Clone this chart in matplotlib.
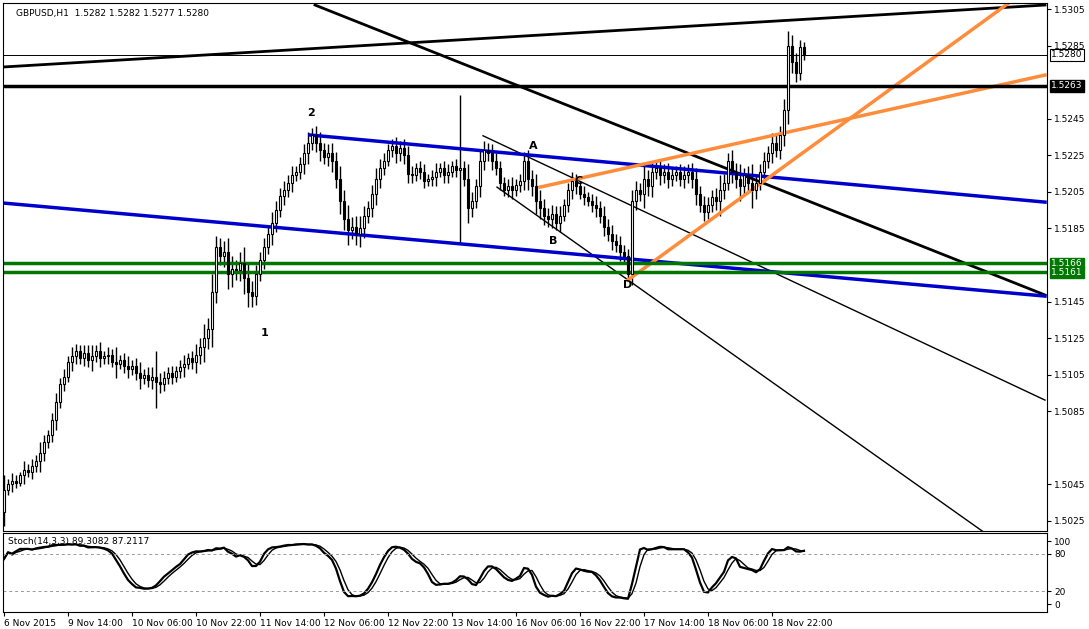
import matplotlib.pyplot as plt
import matplotlib.transforms as mtransforms
import numpy as np

# close prices in pips above 1.5000, one per H1 bar
closes = [42, 45, 47, 46, 50, 53, 52, 55, 58, 62, 68,
          72, 80, 90, 100, 104, 112, 115, 118, 114, 117,
          113, 115, 118, 114, 115, 116, 112, 111, 113, 110,
          108, 110, 106, 103, 105, 102, 104, 101, 100, 103,
          106, 104, 107, 109, 111, 114, 112, 116, 120, 125,
          130, 150, 175, 170, 172, 160, 163, 162, 166, 158,
          150, 148, 160, 168, 175, 182, 188, 195, 203, 206,
          210, 214, 216, 220, 226, 232, 236, 232, 228, 224,
          226, 222, 212, 200, 190, 184, 186, 182, 185, 192,
          196, 204, 212, 218, 222, 228, 230, 226, 229, 225,
          215, 214, 218, 216, 211, 212, 213, 216, 218, 214,
          216, 219, 217, 218, 212, 196, 200, 208, 222, 228,
          226, 222, 218, 210, 206, 208, 206, 209, 211, 222,
          212, 208, 200, 196, 192, 190, 193, 188, 192, 198,
          206, 211, 208, 204, 202, 200, 198, 196, 192, 186,
          182, 178, 176, 172, 170, 160, 200, 206, 204, 212,
          208, 216, 218, 214, 216, 212, 214, 216, 212, 214,
          216, 212, 204, 198, 194, 198, 202, 200, 206, 210,
          222, 216, 212, 208, 214, 210, 206, 210, 216, 222,
          226, 232, 228, 236, 250, 285, 276, 270, 284, 280]
first_open = 30

# wick length in pips beyond the body (used above and below)
wicks = [8, 3, 4, 3, 2, 5, 3, 4, 3, 6, 4,
         3, 4, 5, 3, 4, 3, 5, 4, 3, 4,
         4, 6, 3, 5, 3, 4, 3, 8, 3, 4,
         5, 3, 4, 6, 3, 4, 5, 14, 5, 4,
         3, 4, 3, 4, 5, 3, 4, 6, 5, 8,
         6, 10, 6, 5, 6, 8, 7, 5, 6, 9,
         8, 6, 5, 4, 5, 4, 6, 5, 4, 5,
         4, 5, 3, 4, 5, 6, 4, 5, 6, 4,
         5, 6, 5, 7, 6, 8, 5, 6, 7, 5,
         4, 5, 6, 5, 4, 3, 4, 5, 4, 5,
         5, 4, 3, 4, 4, 3, 4, 5, 3, 4,
         4, 3, 4, 40, 4, 8, 5, 4, 6, 5,
         4, 5, 4, 4, 3, 4, 5, 3, 4, 5,
         6, 5, 7, 6, 5, 4, 5, 4, 5, 3,
         4, 5, 4, 3, 4, 3, 4, 5, 4, 5,
         4, 5, 4, 5, 4, 4, 6, 5, 4, 8,
         5, 6, 4, 5, 4, 5, 4, 3, 4, 5,
         4, 5, 6, 4, 5, 4, 4, 5, 8, 5,
         4, 6, 5, 8, 4, 5, 10, 5, 4, 5,
         4, 5, 4, 5, 6, 8, 6, 5, 4, 3]

x_labels = ["6 Nov 2015", "9 Nov 14:00", "10 Nov 06:00", "10 Nov 22:00",
            "11 Nov 14:00", "12 Nov 06:00", "12 Nov 22:00", "13 Nov 14:00",
            "16 Nov 06:00", "16 Nov 22:00", "17 Nov 14:00", "18 Nov 06:00",
            "18 Nov 22:00"]
price_ticks = [1.5025, 1.5045, 1.5085, 1.5105, 1.5125, 1.5145, 1.5185,
               1.5205, 1.5225, 1.5245, 1.5285, 1.5305]

# drawn trend lines: (bar, price) -> (bar, price)
black_lines = [((-0.25, 1.52733), (260.25, 1.53072)),
               ((77.75, 1.53072), (260.25, 1.51486))]
thin_lines = [((119.75, 1.52357), (260.25, 1.50911)),
              ((123.25, 1.52076), (245.25, 1.50184))]
blue_lines = [((76.5, 1.52361), (260.25, 1.51994)),
              ((-0.25, 1.51989), (260.25, 1.51480))]
orange_lines = [((134, 1.52076), (260.25, 1.52689)),
                ((156, 1.51568), (251.5, 1.53088))]
green_levels = [1.5166, 1.5161]
level_1263 = 1.5263
last_price = 1.5280
wave_labels = [("2", 76.75, 1.5248), ("1", 65.25, 1.5128), ("A", 132.25, 1.5230),
               ("B", 137.25, 1.5178), ("C", 143.75, 1.5211), ("D", 156, 1.5154)]

c = 1.5 + np.array(closes) / 10000
o = np.concatenate([[1.5 + first_open / 10000], c[:-1]])
w = np.array(wicks) / 10000
h = np.maximum(o, c) + w
l = np.minimum(o, c) - w
idx = np.arange(len(c))

# stochastic 14,3,3
hh = np.array([h[max(0, i - 13):i + 1].max() for i in idx])
ll = np.array([l[max(0, i - 13):i + 1].min() for i in idx])
raw = 100 * (c - ll) / (hh - ll)
k = np.convolve(raw, np.ones(3) / 3, mode="full")[:len(raw)]
k[:2] = raw[:2]
d = np.convolve(k, np.ones(3) / 3, mode="full")[:len(k)]
d[:2] = k[:2]

fig = plt.figure(figsize=(10.89, 6.29), dpi=100)
ax = fig.add_axes([3 / 1089, 0.1558, 1044 / 1089, 0.8394])
ax2 = fig.add_axes([3 / 1089, 0.027, 1044 / 1089, 0.1256])

for i in idx:
    ax.vlines(i, l[i], h[i], color="black", lw=1)
    bull = c[i] >= o[i]
    body = max(abs(c[i] - o[i]), 0.00003)
    ax.add_patch(plt.Rectangle((i - 0.32, min(o[i], c[i])), 0.64, body,
                               facecolor="white" if bull else "black",
                               edgecolor="black", lw=0.8, zorder=3))

for (a, b) in black_lines:
    ax.plot([a[0], b[0]], [a[1], b[1]], color="black", lw=2)
for (a, b) in thin_lines:
    ax.plot([a[0], b[0]], [a[1], b[1]], color="black", lw=1)
for (a, b) in blue_lines:
    ax.plot([a[0], b[0]], [a[1], b[1]], color="#0000cc", lw=2.5)
for (a, b) in orange_lines:
    ax.plot([a[0], b[0]], [a[1], b[1]], color="#ff8c3a", lw=2.5)
for g in green_levels:
    ax.axhline(g, color="#007700", lw=2.5)
ax.axhline(level_1263, color="black", lw=2.5)
ax.axhline(last_price, color="black", lw=0.7)

for txt, xi, yp in wave_labels:
    ax.text(xi, yp, txt, fontsize=8, fontweight="bold", ha="center", va="center")

ax.set_xlim(-0.25, 260.75)
ax.set_ylim(1.50195, 1.53083)
ax.yaxis.tick_right()
ax.set_yticks(price_ticks)
ax.set_yticklabels([f"{p:.4f}" for p in price_ticks], fontsize=6.5)
ax.tick_params(axis="y", length=3, pad=2)
ax.set_xticks([])

trans = mtransforms.blended_transform_factory(ax.transAxes, ax.transData)
ax.text(1.004, last_price, f"{last_price:.4f}", transform=trans, fontsize=6.5,
        va="center", ha="left", bbox=dict(facecolor="white", edgecolor="black", pad=1, lw=0.8))
ax.text(1.004, level_1263, f"{level_1263:.4f}", transform=trans, fontsize=6.5, color="white",
        va="center", ha="left", bbox=dict(facecolor="black", edgecolor="black", pad=1))
for g in green_levels:
    ax.text(1.004, g, f"{g:.4f}", transform=trans, fontsize=6.5, color="white",
            va="center", ha="left", bbox=dict(facecolor="#007700", edgecolor="#007700", pad=0.6))
ax.text(0.012, 0.988, "GBPUSD,H1  1.5282 1.5282 1.5277 1.5280", transform=ax.transAxes,
        fontsize=6.5, va="top", ha="left")

ax2.plot(idx, k, color="black", lw=1.6)
ax2.plot(idx, d, color="black", lw=1)
ax2.axhline(80, color="#999999", lw=0.7, ls=(0, (3, 3)))
ax2.axhline(20, color="#999999", lw=0.7, ls=(0, (3, 3)))
ax2.set_xlim(-0.25, 260.75)
ax2.set_ylim(-12.7, 112.7)
ax2.yaxis.tick_right()
ax2.set_yticks([0, 20, 80, 100])
ax2.set_yticklabels(["0", "20", "80", "100"], fontsize=6.5)
ax2.tick_params(axis="y", length=3, pad=2)
ax2.set_xticks(np.arange(len(x_labels)) * 16)
ax2.set_xticklabels(x_labels, fontsize=6.5, ha="left")
ax2.tick_params(axis="x", length=3, pad=2)
ax2.text(0.005, 0.95, "Stoch(14,3,3) 89.3082 87.2117", transform=ax2.transAxes,
         fontsize=6.5, va="top", ha="left")

fig.savefig("out.png", dpi=100)
